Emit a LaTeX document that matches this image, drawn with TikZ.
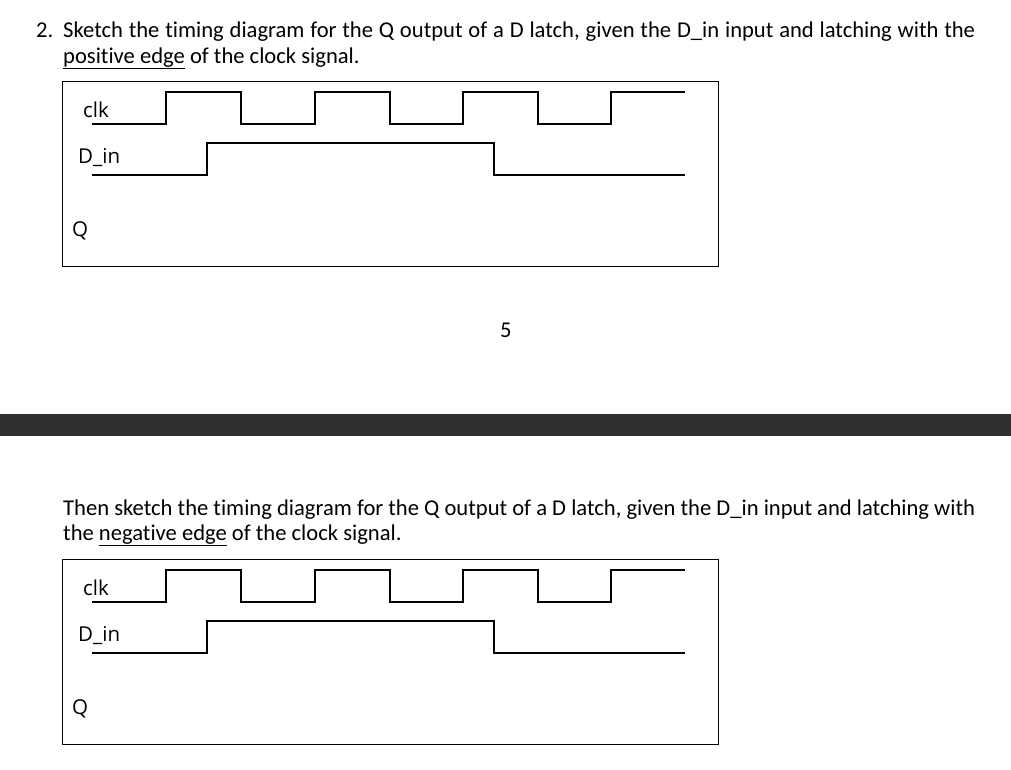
\documentclass[tikz,border=0pt]{standalone}
\usepackage{fontspec}
\setmainfont{Carlito}[Ligatures=NoCommon]
\newfontfamily\sigfont{Open Sans}
\usepackage{tikz}
\tikzset{
    every node/.style={inner sep=0mm, anchor=base west}
}
\tikzset{body/.style={font=\fontsize{22.6}{27}\selectfont}}
\tikzset{siglabel/.style={font=\sigfont\fontsize{20.5}{24}\selectfont}}
\tikzset{wave/.style={line width=1.6pt, line join=miter}}
\tikzset{frame/.style={draw, line width=1pt}}
\definecolor{banddark}{HTML}{303030}
\newcommand{\fullline}[1]{\makebox[912pt][s]{#1}}

\begin{document}
\begin{tikzpicture}[x=1pt, y=-1pt]
    \useasboundingbox (0,0) rectangle (1011,769);

    % question, positive edge
    \node (num) at (36,37) [body] {2.};
    \node (posa) at (63,37) [body] {\fullline{Sketch the timing diagram for the Q output of a D latch, given the D\_in input and latching with the}};
    \node (posb) at (63,63) [body] {\underline{positive edge} of the clock signal.};

    \draw[frame] (62,81) rectangle (718,266);
    \node (clk1) at (83,117) [siglabel] {clk};
    \node (din1) at (78,163) [siglabel] {D\_in};
    \node (q1) at (72,236) [siglabel] {Q};

    \draw[wave] (92,124) -- (166,124) -- (166,92) -- (241,92) -- (241,124)
        -- (315,124) -- (315,92) -- (390,92) -- (390,124)
        -- (463,124) -- (463,92) -- (538,92) -- (538,124)
        -- (611,124) -- (611,92) -- (685,92);
    \draw[wave] (92,175) -- (207,175) -- (207,143) -- (494,143) -- (494,175) -- (685,175);

    \node (page) at (500,337) [body] {5};

    \fill[banddark] (0,414) rectangle (1011,436);

    % question, negative edge
    \node (nega) at (63,515) [body] {\fullline{Then sketch the timing diagram for the Q output of a D latch, given the D\_in input and latching with}};
    \node (negb) at (63,540) [body] {the \underline{negative edge} of the clock signal.};

    \draw[frame] (62,559) rectangle (718,744);
    \node (clk2) at (83,595) [siglabel] {clk};
    \node (din2) at (78,641) [siglabel] {D\_in};
    \node (q2) at (72,714) [siglabel] {Q};

    \draw[wave] (92,602) -- (166,602) -- (166,570) -- (241,570) -- (241,602)
        -- (315,602) -- (315,570) -- (390,570) -- (390,602)
        -- (463,602) -- (463,570) -- (538,570) -- (538,602)
        -- (611,602) -- (611,570) -- (685,570);
    \draw[wave] (92,653) -- (207,653) -- (207,621) -- (494,621) -- (494,653) -- (685,653);
\end{tikzpicture}
\end{document}
